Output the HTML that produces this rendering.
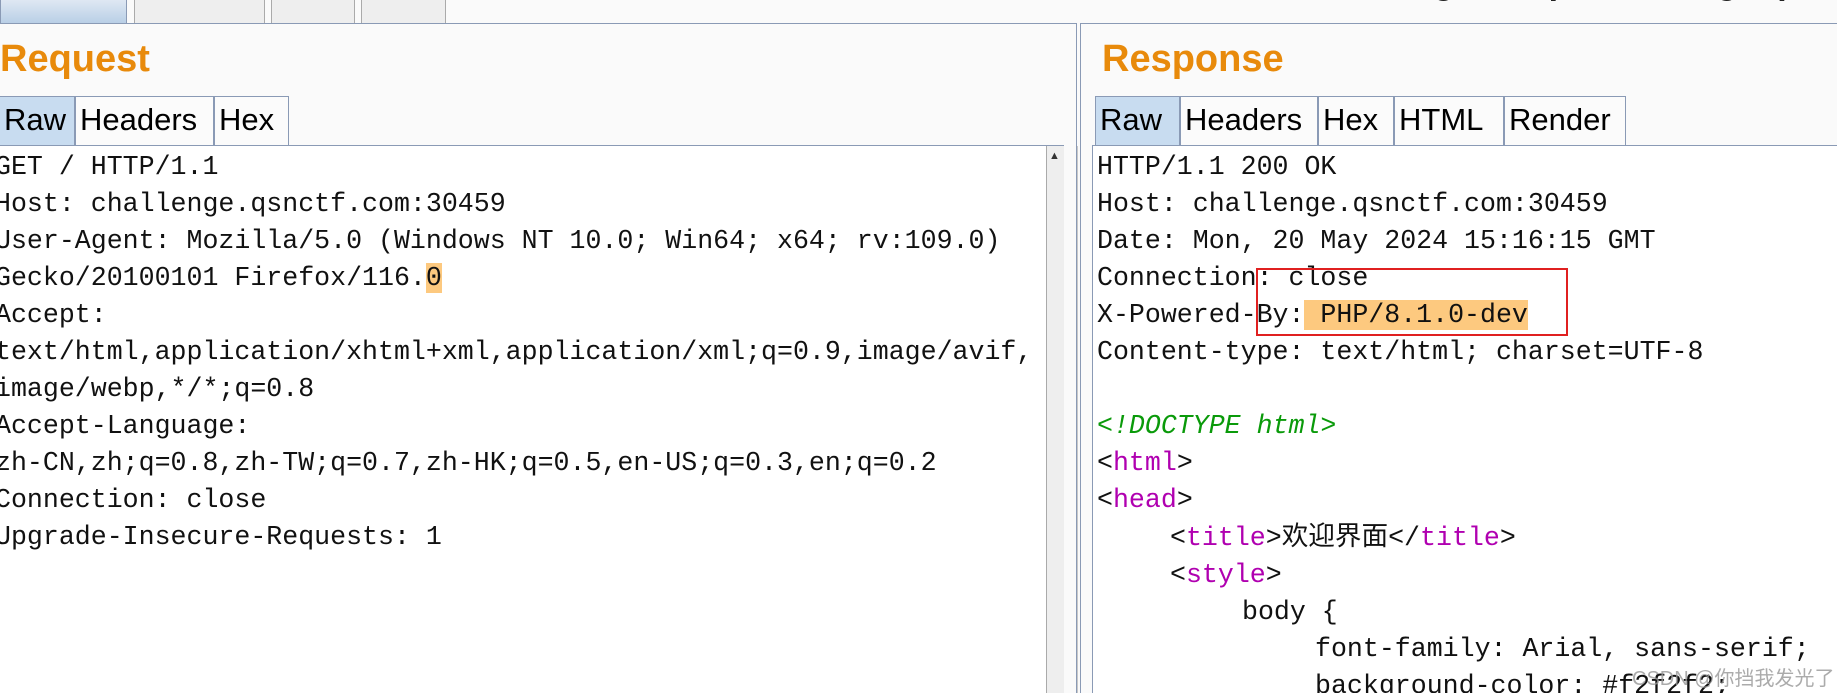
<!DOCTYPE html>
<html><head><meta charset="utf-8"><style>
*{margin:0;padding:0;box-sizing:border-box}
html,body{overflow:hidden}
body{width:1837px;height:693px;overflow:hidden;background:#fafafa;position:relative;font-family:"Liberation Sans",sans-serif}
.a{position:absolute}
.tab{position:absolute;border:1px solid #8a9ab5;border-bottom:none;background:#fbfbfb;font-size:31px;color:#000;line-height:46px;padding-left:4px}
.sel{background:#c8dcf0}
.h{position:absolute;color:#e88a0b;font-weight:bold;font-size:38px}
.ln{position:absolute;font-family:"Liberation Mono","Noto Sans CJK JP",monospace;font-size:26.6px;white-space:pre;color:#111;line-height:37px}
.g{color:#0a9a0a;font-style:italic}
.m{color:#b000b0}
.hl{background:#fdc97f}
</style></head><body>
<div class="a" style="left:0;top:0;width:127px;height:24px;background:linear-gradient(#dfe8f3,#b9cfe6);border:1px solid #8a9ab5;border-top:none"></div>
<div class="a" style="left:134px;top:0;width:131px;height:24px;background:#eee;border:1px solid #aaa;border-top:none"></div>
<div class="a" style="left:271px;top:0;width:84px;height:24px;background:#eee;border:1px solid #aaa;border-top:none"></div>
<div class="a" style="left:361px;top:0;width:85px;height:24px;background:#eee;border:1px solid #aaa;border-top:none"></div>
<div class="a" style="left:1383px;top:-36px;font-size:34px;font-weight:bold;color:#222;white-space:nowrap">Target: http://challenge.qsnctf.com:30459</div>
<div class="a" style="left:-1px;top:23px;width:1078px;height:1000px;border:1px solid #8a9ab5;background:#fafafa"></div>
<div class="a" style="left:1080px;top:23px;width:757px;height:1000px;border:1px solid #8a9ab5;border-right:none;background:#fafafa"></div>
<div class="h" style="left:0;top:38px">Request</div>
<div class="h" style="left:1102px;top:38px">Response</div>
<div class="tab sel" style="left:-1px;top:96px;width:76px;height:50px">Raw</div>
<div class="tab" style="left:75px;top:96px;width:139px;height:50px">Headers</div>
<div class="tab" style="left:214px;top:96px;width:75px;height:50px">Hex</div>
<div class="tab sel" style="left:1095px;top:96px;width:85px;height:50px">Raw</div>
<div class="tab" style="left:1180px;top:96px;width:138px;height:50px">Headers</div>
<div class="tab" style="left:1318px;top:96px;width:76px;height:50px">Hex</div>
<div class="tab" style="left:1394px;top:96px;width:110px;height:50px">HTML</div>
<div class="tab" style="left:1504px;top:96px;width:122px;height:50px">Render</div>
<div class="a" style="left:-1px;top:145px;width:1065px;height:1000px;border:1px solid #8a9ab5;background:#fff"></div>
<div class="a" style="left:1046px;top:146px;width:18px;height:1000px;background:#eee;border-left:1px solid #aaa"></div>
<div class="a" style="left:1049px;top:150px;font-size:11px;color:#333">▲</div>
<div class="a" style="left:1092px;top:145px;width:745px;height:1000px;border:1px solid #8a9ab5;border-right:none;background:#fff"></div>
<div class="a" style="left:1077px;top:146px;width:1px;height:560px;background:#c8c8c8"></div>
<div class="ln" style="left:-5px;top:149px">GET / HTTP/1.1
Host: challenge.qsnctf.com:30459
User-Agent: Mozilla/5.0 (Windows NT 10.0; Win64; x64; rv:109.0)
Gecko/20100101 Firefox/116.<span class="hl">0</span>
Accept:
text/html,application/xhtml+xml,application/xml;q=0.9,image/avif,
image/webp,*/*;q=0.8
Accept-Language:
zh-CN,zh;q=0.8,zh-TW;q=0.7,zh-HK;q=0.5,en-US;q=0.3,en;q=0.2
Connection: close
Upgrade-Insecure-Requests: 1</div>
<div class="ln" style="left:1097px;top:149px">HTTP/1.1 200 OK
Host: challenge.qsnctf.com:30459
Date: Mon, 20 May 2024 15:16:15 GMT
Connection: close
X-Powered-By:<span class="hl"> PHP/8.1.0-dev</span>
Content-type: text/html; charset=UTF-8

<span class="g">&lt;!DOCTYPE html&gt;</span>
&lt;<span class="m">html</span>&gt;
&lt;<span class="m">head</span>&gt;</div>
<div class="ln" style="left:1170px;top:520px">&lt;<span class="m">title</span>&gt;欢迎界面&lt;/<span class="m">title</span>&gt;
&lt;<span class="m">style</span>&gt;</div>
<div class="ln" style="left:1242px;top:594px">body {</div>
<div class="ln" style="left:1315px;top:631px">font-family: Arial, sans-serif;
background-color: #f2f2f2;</div>
<div class="a" style="left:1256px;top:268px;width:312px;height:68px;border:2px solid #e02020"></div>
<div class="a" style="left:1632px;top:662px;font-size:20px;color:rgba(150,150,150,.8);font-family:'Liberation Sans','Noto Sans CJK SC',sans-serif;white-space:nowrap">CSDN @你挡我发光了</div>
</body></html>
